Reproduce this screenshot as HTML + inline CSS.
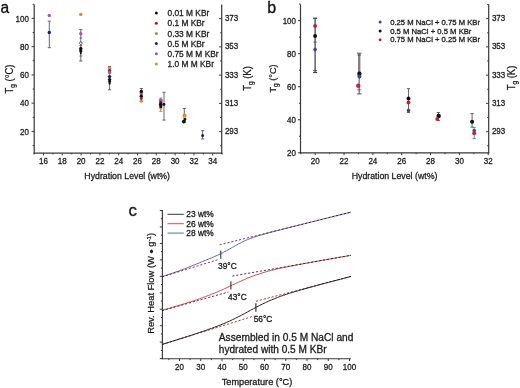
<!DOCTYPE html>
<html><head><meta charset="utf-8"><title>Figure</title>
<style>
html,body{margin:0;padding:0;background:#fff;}
svg{display:block;font-family:"Liberation Sans",sans-serif;filter:blur(0.3px);}
</style></head><body>
<svg width="520" height="388" viewBox="0 0 520 388">
<rect width="520" height="388" fill="#fff"/>
<line x1="34.20" y1="4.60" x2="34.20" y2="153.65" stroke="#383838" stroke-width="1.2" />
<line x1="33.60" y1="153.05" x2="222.30" y2="153.05" stroke="#383838" stroke-width="1.2" />
<line x1="221.70" y1="4.60" x2="221.70" y2="153.65" stroke="#383838" stroke-width="1.2" />
<line x1="43.50" y1="153.05" x2="43.50" y2="155.45" stroke="#383838" stroke-width="1" />
<text transform="translate(43.50,164.25) scale(0.89,1)" font-size="9.0" text-anchor="middle" fill="#1c1c1c" stroke="#1c1c1c" stroke-width="0.3" >16</text>
<line x1="62.30" y1="153.05" x2="62.30" y2="155.45" stroke="#383838" stroke-width="1" />
<text transform="translate(62.30,164.25) scale(0.89,1)" font-size="9.0" text-anchor="middle" fill="#1c1c1c" stroke="#1c1c1c" stroke-width="0.3" >18</text>
<line x1="81.10" y1="153.05" x2="81.10" y2="155.45" stroke="#383838" stroke-width="1" />
<text transform="translate(81.10,164.25) scale(0.89,1)" font-size="9.0" text-anchor="middle" fill="#1c1c1c" stroke="#1c1c1c" stroke-width="0.3" >20</text>
<line x1="99.90" y1="153.05" x2="99.90" y2="155.45" stroke="#383838" stroke-width="1" />
<text transform="translate(99.90,164.25) scale(0.89,1)" font-size="9.0" text-anchor="middle" fill="#1c1c1c" stroke="#1c1c1c" stroke-width="0.3" >22</text>
<line x1="118.70" y1="153.05" x2="118.70" y2="155.45" stroke="#383838" stroke-width="1" />
<text transform="translate(118.70,164.25) scale(0.89,1)" font-size="9.0" text-anchor="middle" fill="#1c1c1c" stroke="#1c1c1c" stroke-width="0.3" >24</text>
<line x1="137.50" y1="153.05" x2="137.50" y2="155.45" stroke="#383838" stroke-width="1" />
<text transform="translate(137.50,164.25) scale(0.89,1)" font-size="9.0" text-anchor="middle" fill="#1c1c1c" stroke="#1c1c1c" stroke-width="0.3" >26</text>
<line x1="156.30" y1="153.05" x2="156.30" y2="155.45" stroke="#383838" stroke-width="1" />
<text transform="translate(156.30,164.25) scale(0.89,1)" font-size="9.0" text-anchor="middle" fill="#1c1c1c" stroke="#1c1c1c" stroke-width="0.3" >28</text>
<line x1="175.10" y1="153.05" x2="175.10" y2="155.45" stroke="#383838" stroke-width="1" />
<text transform="translate(175.10,164.25) scale(0.89,1)" font-size="9.0" text-anchor="middle" fill="#1c1c1c" stroke="#1c1c1c" stroke-width="0.3" >30</text>
<line x1="193.90" y1="153.05" x2="193.90" y2="155.45" stroke="#383838" stroke-width="1" />
<text transform="translate(193.90,164.25) scale(0.89,1)" font-size="9.0" text-anchor="middle" fill="#1c1c1c" stroke="#1c1c1c" stroke-width="0.3" >32</text>
<line x1="212.70" y1="153.05" x2="212.70" y2="155.45" stroke="#383838" stroke-width="1" />
<text transform="translate(212.70,164.25) scale(0.89,1)" font-size="9.0" text-anchor="middle" fill="#1c1c1c" stroke="#1c1c1c" stroke-width="0.3" >34</text>
<line x1="34.10" y1="153.05" x2="34.10" y2="154.45" stroke="#383838" stroke-width="1" />
<line x1="52.90" y1="153.05" x2="52.90" y2="154.45" stroke="#383838" stroke-width="1" />
<line x1="71.70" y1="153.05" x2="71.70" y2="154.45" stroke="#383838" stroke-width="1" />
<line x1="90.50" y1="153.05" x2="90.50" y2="154.45" stroke="#383838" stroke-width="1" />
<line x1="109.30" y1="153.05" x2="109.30" y2="154.45" stroke="#383838" stroke-width="1" />
<line x1="128.10" y1="153.05" x2="128.10" y2="154.45" stroke="#383838" stroke-width="1" />
<line x1="146.90" y1="153.05" x2="146.90" y2="154.45" stroke="#383838" stroke-width="1" />
<line x1="165.70" y1="153.05" x2="165.70" y2="154.45" stroke="#383838" stroke-width="1" />
<line x1="184.50" y1="153.05" x2="184.50" y2="154.45" stroke="#383838" stroke-width="1" />
<line x1="203.30" y1="153.05" x2="203.30" y2="154.45" stroke="#383838" stroke-width="1" />
<line x1="222.10" y1="153.05" x2="222.10" y2="154.45" stroke="#383838" stroke-width="1" />
<line x1="31.60" y1="131.40" x2="34.20" y2="131.40" stroke="#383838" stroke-width="1" />
<text transform="translate(28.90,134.50) scale(0.89,1)" font-size="9.0" text-anchor="end" fill="#1c1c1c" stroke="#1c1c1c" stroke-width="0.3" >20</text>
<line x1="31.60" y1="103.15" x2="34.20" y2="103.15" stroke="#383838" stroke-width="1" />
<text transform="translate(28.90,106.25) scale(0.89,1)" font-size="9.0" text-anchor="end" fill="#1c1c1c" stroke="#1c1c1c" stroke-width="0.3" >40</text>
<line x1="31.60" y1="74.90" x2="34.20" y2="74.90" stroke="#383838" stroke-width="1" />
<text transform="translate(28.90,78.00) scale(0.89,1)" font-size="9.0" text-anchor="end" fill="#1c1c1c" stroke="#1c1c1c" stroke-width="0.3" >60</text>
<line x1="31.60" y1="46.65" x2="34.20" y2="46.65" stroke="#383838" stroke-width="1" />
<text transform="translate(28.90,49.75) scale(0.89,1)" font-size="9.0" text-anchor="end" fill="#1c1c1c" stroke="#1c1c1c" stroke-width="0.3" >80</text>
<line x1="31.60" y1="18.40" x2="34.20" y2="18.40" stroke="#383838" stroke-width="1" />
<text transform="translate(28.90,21.50) scale(0.89,1)" font-size="9.0" text-anchor="end" fill="#1c1c1c" stroke="#1c1c1c" stroke-width="0.3" >100</text>
<line x1="32.70" y1="145.53" x2="34.20" y2="145.53" stroke="#383838" stroke-width="1" />
<line x1="32.70" y1="117.28" x2="34.20" y2="117.28" stroke="#383838" stroke-width="1" />
<line x1="32.70" y1="89.03" x2="34.20" y2="89.03" stroke="#383838" stroke-width="1" />
<line x1="32.70" y1="60.78" x2="34.20" y2="60.78" stroke="#383838" stroke-width="1" />
<line x1="32.70" y1="32.53" x2="34.20" y2="32.53" stroke="#383838" stroke-width="1" />
<line x1="32.70" y1="4.27" x2="34.20" y2="4.27" stroke="#383838" stroke-width="1" />
<line x1="219.10" y1="131.61" x2="221.70" y2="131.61" stroke="#383838" stroke-width="1" />
<text transform="translate(224.90,134.11) scale(0.89,1)" font-size="9.0" text-anchor="start" fill="#1c1c1c" stroke="#1c1c1c" stroke-width="0.3" >293</text>
<line x1="219.10" y1="103.36" x2="221.70" y2="103.36" stroke="#383838" stroke-width="1" />
<text transform="translate(224.90,105.86) scale(0.89,1)" font-size="9.0" text-anchor="start" fill="#1c1c1c" stroke="#1c1c1c" stroke-width="0.3" >313</text>
<line x1="219.10" y1="75.11" x2="221.70" y2="75.11" stroke="#383838" stroke-width="1" />
<text transform="translate(224.90,77.61) scale(0.89,1)" font-size="9.0" text-anchor="start" fill="#1c1c1c" stroke="#1c1c1c" stroke-width="0.3" >333</text>
<line x1="219.10" y1="46.86" x2="221.70" y2="46.86" stroke="#383838" stroke-width="1" />
<text transform="translate(224.90,49.36) scale(0.89,1)" font-size="9.0" text-anchor="start" fill="#1c1c1c" stroke="#1c1c1c" stroke-width="0.3" >353</text>
<line x1="219.10" y1="18.61" x2="221.70" y2="18.61" stroke="#383838" stroke-width="1" />
<text transform="translate(224.90,21.11) scale(0.89,1)" font-size="9.0" text-anchor="start" fill="#1c1c1c" stroke="#1c1c1c" stroke-width="0.3" >373</text>
<line x1="220.20" y1="145.74" x2="221.70" y2="145.74" stroke="#383838" stroke-width="1" />
<line x1="220.20" y1="117.49" x2="221.70" y2="117.49" stroke="#383838" stroke-width="1" />
<line x1="220.20" y1="89.24" x2="221.70" y2="89.24" stroke="#383838" stroke-width="1" />
<line x1="220.20" y1="60.99" x2="221.70" y2="60.99" stroke="#383838" stroke-width="1" />
<line x1="220.20" y1="32.74" x2="221.70" y2="32.74" stroke="#383838" stroke-width="1" />
<text transform="translate(127.20,179.40) scale(0.933,1)" font-size="9.4" text-anchor="middle" fill="#1c1c1c" stroke="#1c1c1c" stroke-width="0.3" >Hydration Level (wt%)</text>
<text transform="translate(13.4,79.0) rotate(-90) scale(0.95,1)" font-size="10.0" text-anchor="middle" fill="#1c1c1c" stroke="#1c1c1c" stroke-width="0.25">T<tspan font-size="6.8" dy="2">g</tspan><tspan dy="-2"> (°C)</tspan></text>
<text transform="translate(250.6,78.5) rotate(-90) scale(0.95,1)" font-size="10.0" text-anchor="middle" fill="#1c1c1c" stroke="#1c1c1c" stroke-width="0.25">T<tspan font-size="6.8" dy="2">g</tspan><tspan dy="-2"> (K)</tspan></text>
<text transform="translate(0.50,12.70) scale(1.0,1)" font-size="15.6" text-anchor="start" fill="#111" stroke="#111" stroke-width="0.3" >a</text>
<circle cx="156.30" cy="13.00" r="1.5" fill="#111111"/>
<text transform="translate(167.50,16.10) scale(0.95,1)" font-size="8.8" text-anchor="start" fill="#1c1c1c" stroke="#1c1c1c" stroke-width="0.3" >0.01 M KBr</text>
<circle cx="156.30" cy="23.20" r="1.5" fill="#98202c"/>
<text transform="translate(167.50,26.30) scale(0.95,1)" font-size="8.8" text-anchor="start" fill="#1c1c1c" stroke="#1c1c1c" stroke-width="0.3" >0.1 M KBr</text>
<circle cx="156.30" cy="33.40" r="1.5" fill="#8a9a3a"/>
<text transform="translate(167.50,36.50) scale(0.95,1)" font-size="8.8" text-anchor="start" fill="#1c1c1c" stroke="#1c1c1c" stroke-width="0.3" >0.33 M KBr</text>
<circle cx="156.30" cy="43.60" r="1.5" fill="#1e1e62"/>
<text transform="translate(167.50,46.70) scale(0.95,1)" font-size="8.8" text-anchor="start" fill="#1c1c1c" stroke="#1c1c1c" stroke-width="0.3" >0.5 M KBr</text>
<circle cx="156.30" cy="53.80" r="1.5" fill="#a05aa2"/>
<text transform="translate(167.50,56.90) scale(0.95,1)" font-size="8.8" text-anchor="start" fill="#1c1c1c" stroke="#1c1c1c" stroke-width="0.3" >0.75 M M KBr</text>
<circle cx="156.30" cy="64.00" r="1.5" fill="#e08a30"/>
<text transform="translate(167.50,67.10) scale(0.95,1)" font-size="8.8" text-anchor="start" fill="#1c1c1c" stroke="#1c1c1c" stroke-width="0.3" >1.0 M M KBr</text>
<line x1="49.30" y1="21.20" x2="49.30" y2="47.70" stroke="#444" stroke-width="0.8" />
<line x1="47.70" y1="21.20" x2="50.90" y2="21.20" stroke="#444" stroke-width="0.8" />
<line x1="47.70" y1="47.70" x2="50.90" y2="47.70" stroke="#444" stroke-width="0.8" />
<circle cx="49.30" cy="32.50" r="1.7" fill="#1e1e62"/>
<circle cx="49.30" cy="15.50" r="1.7" fill="#a05aa2"/>
<line x1="80.80" y1="29.60" x2="80.80" y2="61.00" stroke="#444" stroke-width="0.8" />
<line x1="79.20" y1="29.60" x2="82.40" y2="29.60" stroke="#444" stroke-width="0.8" />
<line x1="79.20" y1="61.00" x2="82.40" y2="61.00" stroke="#444" stroke-width="0.8" />
<line x1="79.40" y1="38.00" x2="82.20" y2="38.00" stroke="#444" stroke-width="0.7" />
<line x1="79.40" y1="45.60" x2="82.20" y2="45.60" stroke="#444" stroke-width="0.7" />
<line x1="79.40" y1="56.00" x2="82.20" y2="56.00" stroke="#444" stroke-width="0.7" />
<circle cx="80.80" cy="14.40" r="1.7" fill="#e08a30"/>
<circle cx="80.80" cy="33.70" r="1.7" fill="#a05aa2"/>
<circle cx="80.8" cy="43.2" r="1.3" fill="#fff" stroke="#333" stroke-width="0.7"/>
<circle cx="80.80" cy="48.30" r="1.5999999999999999" fill="#111111"/>
<circle cx="80.80" cy="50.00" r="1.5999999999999999" fill="#111111"/>
<circle cx="80.80" cy="51.60" r="1.4" fill="#111111"/>
<circle cx="80.80" cy="53.40" r="0.8999999999999999" fill="#111111"/>
<line x1="109.60" y1="66.50" x2="109.60" y2="89.80" stroke="#444" stroke-width="0.8" />
<line x1="108.00" y1="66.50" x2="111.20" y2="66.50" stroke="#444" stroke-width="0.8" />
<line x1="108.00" y1="89.80" x2="111.20" y2="89.80" stroke="#444" stroke-width="0.8" />
<circle cx="109.60" cy="68.30" r="1.7" fill="#e08a30"/>
<circle cx="109.60" cy="70.60" r="1.7" fill="#98202c"/>
<circle cx="109.60" cy="72.60" r="1.7" fill="#a05aa2"/>
<circle cx="109.60" cy="76.60" r="1.7" fill="#1e1e62"/>
<circle cx="109.60" cy="79.60" r="1.7" fill="#111111"/>
<circle cx="109.60" cy="81.60" r="1.5" fill="#111111"/>
<circle cx="109.60" cy="83.60" r="1.1" fill="#111111"/>
<line x1="141.30" y1="88.50" x2="141.30" y2="101.50" stroke="#444" stroke-width="0.8" />
<line x1="139.70" y1="88.50" x2="142.90" y2="88.50" stroke="#444" stroke-width="0.8" />
<line x1="139.70" y1="101.50" x2="142.90" y2="101.50" stroke="#444" stroke-width="0.8" />
<circle cx="141.30" cy="101.00" r="1.7" fill="#e08a30"/>
<circle cx="141.30" cy="93.50" r="1.7" fill="#a05aa2"/>
<circle cx="141.30" cy="91.50" r="1.7" fill="#111111"/>
<circle cx="141.30" cy="96.30" r="1.7" fill="#111111"/>
<circle cx="141.30" cy="98.50" r="1.4" fill="#98202c"/>
<line x1="164.00" y1="92.30" x2="164.00" y2="120.10" stroke="#444" stroke-width="0.8" />
<line x1="162.40" y1="92.30" x2="165.60" y2="92.30" stroke="#444" stroke-width="0.8" />
<line x1="162.40" y1="120.10" x2="165.60" y2="120.10" stroke="#444" stroke-width="0.8" />
<line x1="160.80" y1="98.00" x2="160.80" y2="111.30" stroke="#b06a30" stroke-width="0.8" />
<line x1="159.20" y1="98.00" x2="162.40" y2="98.00" stroke="#b06a30" stroke-width="0.8" />
<line x1="159.20" y1="111.30" x2="162.40" y2="111.30" stroke="#b06a30" stroke-width="0.8" />
<circle cx="160.80" cy="108.00" r="1.7" fill="#e08a30"/>
<circle cx="160.80" cy="100.50" r="2.0" fill="#a05aa2"/>
<circle cx="160.80" cy="102.80" r="1.7" fill="#5a1a2a"/>
<circle cx="160.80" cy="104.60" r="1.9" fill="#111111"/>
<circle cx="160.80" cy="106.60" r="1.5" fill="#111111"/>
<circle cx="164.00" cy="104.40" r="1.4" fill="#111111"/>
<line x1="184.30" y1="108.50" x2="184.30" y2="122.00" stroke="#444" stroke-width="0.8" />
<line x1="182.70" y1="108.50" x2="185.90" y2="108.50" stroke="#444" stroke-width="0.8" />
<line x1="182.70" y1="122.00" x2="185.90" y2="122.00" stroke="#444" stroke-width="0.8" />
<circle cx="184.60" cy="115.50" r="2.0" fill="#e08a30"/>
<circle cx="184.60" cy="118.00" r="1.7" fill="#f0a060"/>
<circle cx="183.80" cy="121.60" r="1.9" fill="#111111"/>
<circle cx="185.00" cy="119.40" r="1.2999999999999998" fill="#111111"/>
<line x1="202.60" y1="130.70" x2="202.60" y2="138.90" stroke="#444" stroke-width="0.8" />
<line x1="201.00" y1="130.70" x2="204.20" y2="130.70" stroke="#444" stroke-width="0.8" />
<line x1="201.00" y1="138.90" x2="204.20" y2="138.90" stroke="#444" stroke-width="0.8" />
<circle cx="202.60" cy="135.60" r="1.5" fill="#1e1e62"/>
<line x1="300.50" y1="4.40" x2="300.50" y2="153.40" stroke="#383838" stroke-width="1.2" />
<line x1="299.90" y1="152.80" x2="489.30" y2="152.80" stroke="#383838" stroke-width="1.2" />
<line x1="488.70" y1="4.40" x2="488.70" y2="153.40" stroke="#383838" stroke-width="1.2" />
<line x1="315.20" y1="152.80" x2="315.20" y2="155.20" stroke="#383838" stroke-width="1" />
<text transform="translate(315.20,164.40) scale(0.89,1)" font-size="9.0" text-anchor="middle" fill="#1c1c1c" stroke="#1c1c1c" stroke-width="0.3" >20</text>
<line x1="344.04" y1="152.80" x2="344.04" y2="155.20" stroke="#383838" stroke-width="1" />
<text transform="translate(344.04,164.40) scale(0.89,1)" font-size="9.0" text-anchor="middle" fill="#1c1c1c" stroke="#1c1c1c" stroke-width="0.3" >22</text>
<line x1="372.88" y1="152.80" x2="372.88" y2="155.20" stroke="#383838" stroke-width="1" />
<text transform="translate(372.88,164.40) scale(0.89,1)" font-size="9.0" text-anchor="middle" fill="#1c1c1c" stroke="#1c1c1c" stroke-width="0.3" >24</text>
<line x1="401.72" y1="152.80" x2="401.72" y2="155.20" stroke="#383838" stroke-width="1" />
<text transform="translate(401.72,164.40) scale(0.89,1)" font-size="9.0" text-anchor="middle" fill="#1c1c1c" stroke="#1c1c1c" stroke-width="0.3" >26</text>
<line x1="430.56" y1="152.80" x2="430.56" y2="155.20" stroke="#383838" stroke-width="1" />
<text transform="translate(430.56,164.40) scale(0.89,1)" font-size="9.0" text-anchor="middle" fill="#1c1c1c" stroke="#1c1c1c" stroke-width="0.3" >28</text>
<line x1="459.40" y1="152.80" x2="459.40" y2="155.20" stroke="#383838" stroke-width="1" />
<text transform="translate(459.40,164.40) scale(0.89,1)" font-size="9.0" text-anchor="middle" fill="#1c1c1c" stroke="#1c1c1c" stroke-width="0.3" >30</text>
<line x1="488.24" y1="152.80" x2="488.24" y2="155.20" stroke="#383838" stroke-width="1" />
<text transform="translate(488.24,164.40) scale(0.89,1)" font-size="9.0" text-anchor="middle" fill="#1c1c1c" stroke="#1c1c1c" stroke-width="0.3" >32</text>
<line x1="300.78" y1="152.80" x2="300.78" y2="154.20" stroke="#383838" stroke-width="1" />
<line x1="329.62" y1="152.80" x2="329.62" y2="154.20" stroke="#383838" stroke-width="1" />
<line x1="358.46" y1="152.80" x2="358.46" y2="154.20" stroke="#383838" stroke-width="1" />
<line x1="387.30" y1="152.80" x2="387.30" y2="154.20" stroke="#383838" stroke-width="1" />
<line x1="416.14" y1="152.80" x2="416.14" y2="154.20" stroke="#383838" stroke-width="1" />
<line x1="444.98" y1="152.80" x2="444.98" y2="154.20" stroke="#383838" stroke-width="1" />
<line x1="473.82" y1="152.80" x2="473.82" y2="154.20" stroke="#383838" stroke-width="1" />
<line x1="297.90" y1="152.80" x2="300.50" y2="152.80" stroke="#383838" stroke-width="1" />
<text transform="translate(296.00,155.90) scale(0.89,1)" font-size="9.0" text-anchor="end" fill="#1c1c1c" stroke="#1c1c1c" stroke-width="0.3" >20</text>
<line x1="297.90" y1="119.76" x2="300.50" y2="119.76" stroke="#383838" stroke-width="1" />
<text transform="translate(296.00,122.86) scale(0.89,1)" font-size="9.0" text-anchor="end" fill="#1c1c1c" stroke="#1c1c1c" stroke-width="0.3" >40</text>
<line x1="297.90" y1="86.72" x2="300.50" y2="86.72" stroke="#383838" stroke-width="1" />
<text transform="translate(296.00,89.82) scale(0.89,1)" font-size="9.0" text-anchor="end" fill="#1c1c1c" stroke="#1c1c1c" stroke-width="0.3" >60</text>
<line x1="297.90" y1="53.68" x2="300.50" y2="53.68" stroke="#383838" stroke-width="1" />
<text transform="translate(296.00,56.78) scale(0.89,1)" font-size="9.0" text-anchor="end" fill="#1c1c1c" stroke="#1c1c1c" stroke-width="0.3" >80</text>
<line x1="297.90" y1="20.64" x2="300.50" y2="20.64" stroke="#383838" stroke-width="1" />
<text transform="translate(296.00,23.74) scale(0.89,1)" font-size="9.0" text-anchor="end" fill="#1c1c1c" stroke="#1c1c1c" stroke-width="0.3" >100</text>
<line x1="299.00" y1="136.28" x2="300.50" y2="136.28" stroke="#383838" stroke-width="1" />
<line x1="299.00" y1="103.24" x2="300.50" y2="103.24" stroke="#383838" stroke-width="1" />
<line x1="299.00" y1="70.20" x2="300.50" y2="70.20" stroke="#383838" stroke-width="1" />
<line x1="299.00" y1="37.16" x2="300.50" y2="37.16" stroke="#383838" stroke-width="1" />
<line x1="299.00" y1="4.12" x2="300.50" y2="4.12" stroke="#383838" stroke-width="1" />
<line x1="486.10" y1="131.61" x2="488.70" y2="131.61" stroke="#383838" stroke-width="1" />
<text transform="translate(491.90,134.11) scale(0.89,1)" font-size="9.0" text-anchor="start" fill="#1c1c1c" stroke="#1c1c1c" stroke-width="0.3" >293</text>
<line x1="486.10" y1="103.36" x2="488.70" y2="103.36" stroke="#383838" stroke-width="1" />
<text transform="translate(491.90,105.86) scale(0.89,1)" font-size="9.0" text-anchor="start" fill="#1c1c1c" stroke="#1c1c1c" stroke-width="0.3" >313</text>
<line x1="486.10" y1="75.11" x2="488.70" y2="75.11" stroke="#383838" stroke-width="1" />
<text transform="translate(491.90,77.61) scale(0.89,1)" font-size="9.0" text-anchor="start" fill="#1c1c1c" stroke="#1c1c1c" stroke-width="0.3" >333</text>
<line x1="486.10" y1="46.86" x2="488.70" y2="46.86" stroke="#383838" stroke-width="1" />
<text transform="translate(491.90,49.36) scale(0.89,1)" font-size="9.0" text-anchor="start" fill="#1c1c1c" stroke="#1c1c1c" stroke-width="0.3" >353</text>
<line x1="486.10" y1="18.61" x2="488.70" y2="18.61" stroke="#383838" stroke-width="1" />
<text transform="translate(491.90,21.11) scale(0.89,1)" font-size="9.0" text-anchor="start" fill="#1c1c1c" stroke="#1c1c1c" stroke-width="0.3" >373</text>
<line x1="487.20" y1="145.74" x2="488.70" y2="145.74" stroke="#383838" stroke-width="1" />
<line x1="487.20" y1="117.49" x2="488.70" y2="117.49" stroke="#383838" stroke-width="1" />
<line x1="487.20" y1="89.24" x2="488.70" y2="89.24" stroke="#383838" stroke-width="1" />
<line x1="487.20" y1="60.99" x2="488.70" y2="60.99" stroke="#383838" stroke-width="1" />
<line x1="487.20" y1="32.74" x2="488.70" y2="32.74" stroke="#383838" stroke-width="1" />
<line x1="487.20" y1="4.49" x2="488.70" y2="4.49" stroke="#383838" stroke-width="1" />
<text transform="translate(394.50,179.40) scale(0.933,1)" font-size="9.4" text-anchor="middle" fill="#1c1c1c" stroke="#1c1c1c" stroke-width="0.3" >Hydration Level (wt%)</text>
<text transform="translate(276.0,78.5) rotate(-90) scale(0.95,1)" font-size="9.7" text-anchor="middle" fill="#1c1c1c" stroke="#1c1c1c" stroke-width="0.25">T<tspan font-size="6.8" dy="2">g</tspan><tspan dy="-2"> (°C)</tspan></text>
<text transform="translate(515.2,78) rotate(-90) scale(0.95,1)" font-size="10.0" text-anchor="middle" fill="#1c1c1c" stroke="#1c1c1c" stroke-width="0.25">T<tspan font-size="6.8" dy="2">g</tspan><tspan dy="-2"> (K)</tspan></text>
<text transform="translate(267.20,12.90) scale(1.0,1)" font-size="16" text-anchor="start" fill="#111" stroke="#111" stroke-width="0.3" >b</text>
<circle cx="380.10" cy="22.10" r="1.5" fill="#3a4494"/>
<text transform="translate(390.20,24.85) scale(1.0,1)" font-size="7.68" text-anchor="start" fill="#1c1c1c" stroke="#1c1c1c" stroke-width="0.3" >0.25 M NaCl + 0.75 M KBr</text>
<circle cx="380.10" cy="30.90" r="1.5" fill="#111111"/>
<text transform="translate(390.20,33.65) scale(1.0,1)" font-size="7.68" text-anchor="start" fill="#1c1c1c" stroke="#1c1c1c" stroke-width="0.3" >0.5 M NaCl + 0.5 M KBr</text>
<circle cx="380.10" cy="39.70" r="1.5" fill="#c8203a"/>
<text transform="translate(390.20,42.45) scale(1.0,1)" font-size="7.68" text-anchor="start" fill="#1c1c1c" stroke="#1c1c1c" stroke-width="0.3" >0.75 M NaCl + 0.25 M KBr</text>
<line x1="315.10" y1="18.30" x2="315.10" y2="72.50" stroke="#404040" stroke-width="1.25" />
<line x1="313.10" y1="18.30" x2="317.10" y2="18.30" stroke="#404040" stroke-width="1.25" />
<line x1="313.10" y1="72.50" x2="317.10" y2="72.50" stroke="#404040" stroke-width="1.25" />
<line x1="313.10" y1="70.50" x2="317.10" y2="70.50" stroke="#444" stroke-width="0.8" />
<line x1="313.50" y1="42.10" x2="316.70" y2="42.10" stroke="#444" stroke-width="0.8" />
<line x1="313.10" y1="18.30" x2="317.10" y2="18.30" stroke="#2a6a66" stroke-width="1.0" />
<circle cx="315.10" cy="26.00" r="2.0" fill="#c8203a"/>
<circle cx="315.10" cy="36.00" r="2.0" fill="#111111"/>
<circle cx="315.10" cy="49.50" r="1.8" fill="#3a4494"/>
<line x1="359.20" y1="53.20" x2="359.20" y2="93.90" stroke="#606060" stroke-width="1.1" />
<line x1="356.90" y1="53.20" x2="361.50" y2="53.20" stroke="#606060" stroke-width="1.1" />
<line x1="356.90" y1="93.90" x2="361.50" y2="93.90" stroke="#606060" stroke-width="1.1" />
<line x1="359.20" y1="53.20" x2="359.20" y2="74.00" stroke="#808080" stroke-width="2.4" />
<line x1="357.40" y1="55.00" x2="361.00" y2="55.00" stroke="#444" stroke-width="0.8" />
<line x1="357.40" y1="89.80" x2="361.00" y2="89.80" stroke="#444" stroke-width="0.8" />
<circle cx="359.40" cy="73.70" r="2.2" fill="#111111"/>
<circle cx="359.40" cy="76.40" r="2.0" fill="#3a4494"/>
<circle cx="358.30" cy="85.70" r="2.2" fill="#c8203a"/>
<line x1="408.50" y1="88.60" x2="408.50" y2="112.50" stroke="#444" stroke-width="0.8" />
<line x1="406.90" y1="88.60" x2="410.10" y2="88.60" stroke="#444" stroke-width="0.8" />
<line x1="406.90" y1="112.50" x2="410.10" y2="112.50" stroke="#444" stroke-width="0.8" />
<circle cx="408.50" cy="98.60" r="2.0" fill="#111111"/>
<circle cx="408.50" cy="102.50" r="2.0" fill="#c8203a"/>
<circle cx="408.50" cy="110.60" r="1.8" fill="#3a4494"/>
<line x1="438.30" y1="112.50" x2="438.30" y2="120.50" stroke="#444" stroke-width="0.8" />
<line x1="436.70" y1="112.50" x2="439.90" y2="112.50" stroke="#444" stroke-width="0.8" />
<line x1="436.70" y1="120.50" x2="439.90" y2="120.50" stroke="#444" stroke-width="0.8" />
<circle cx="438.70" cy="116.00" r="2.2" fill="#111111"/>
<circle cx="437.30" cy="119.00" r="2.0" fill="#c8203a"/>
<line x1="472.10" y1="113.60" x2="472.10" y2="127.10" stroke="#444" stroke-width="0.8" />
<line x1="470.50" y1="113.60" x2="473.70" y2="113.60" stroke="#444" stroke-width="0.8" />
<line x1="470.50" y1="127.10" x2="473.70" y2="127.10" stroke="#444" stroke-width="0.8" />
<circle cx="472.10" cy="121.80" r="2.0" fill="#111111"/>
<line x1="474.20" y1="127.50" x2="474.20" y2="138.50" stroke="#2a8a7a" stroke-width="0.8" />
<line x1="472.60" y1="127.50" x2="475.80" y2="127.50" stroke="#2a8a7a" stroke-width="0.8" />
<line x1="472.60" y1="138.50" x2="475.80" y2="138.50" stroke="#2a8a7a" stroke-width="0.8" />
<circle cx="474.20" cy="130.60" r="1.8" fill="#3a4494"/>
<circle cx="474.20" cy="133.20" r="2.0" fill="#c8203a"/>
<line x1="162.40" y1="210.00" x2="162.40" y2="359.20" stroke="#383838" stroke-width="1.15" />
<line x1="161.90" y1="358.70" x2="351.00" y2="358.70" stroke="#383838" stroke-width="1.15" />
<line x1="159.80" y1="210.50" x2="162.40" y2="210.50" stroke="#383838" stroke-width="1" />
<line x1="159.80" y1="226.96" x2="162.40" y2="226.96" stroke="#383838" stroke-width="1" />
<line x1="159.80" y1="243.42" x2="162.40" y2="243.42" stroke="#383838" stroke-width="1" />
<line x1="159.80" y1="259.88" x2="162.40" y2="259.88" stroke="#383838" stroke-width="1" />
<line x1="159.80" y1="276.34" x2="162.40" y2="276.34" stroke="#383838" stroke-width="1" />
<line x1="159.80" y1="292.80" x2="162.40" y2="292.80" stroke="#383838" stroke-width="1" />
<line x1="159.80" y1="309.26" x2="162.40" y2="309.26" stroke="#383838" stroke-width="1" />
<line x1="159.80" y1="325.72" x2="162.40" y2="325.72" stroke="#383838" stroke-width="1" />
<line x1="159.80" y1="342.18" x2="162.40" y2="342.18" stroke="#383838" stroke-width="1" />
<line x1="159.80" y1="358.64" x2="162.40" y2="358.64" stroke="#383838" stroke-width="1" />
<line x1="160.90" y1="218.73" x2="162.40" y2="218.73" stroke="#383838" stroke-width="1" />
<line x1="160.90" y1="235.19" x2="162.40" y2="235.19" stroke="#383838" stroke-width="1" />
<line x1="160.90" y1="251.65" x2="162.40" y2="251.65" stroke="#383838" stroke-width="1" />
<line x1="160.90" y1="268.11" x2="162.40" y2="268.11" stroke="#383838" stroke-width="1" />
<line x1="160.90" y1="284.57" x2="162.40" y2="284.57" stroke="#383838" stroke-width="1" />
<line x1="160.90" y1="301.03" x2="162.40" y2="301.03" stroke="#383838" stroke-width="1" />
<line x1="160.90" y1="317.49" x2="162.40" y2="317.49" stroke="#383838" stroke-width="1" />
<line x1="160.90" y1="333.95" x2="162.40" y2="333.95" stroke="#383838" stroke-width="1" />
<line x1="160.90" y1="350.41" x2="162.40" y2="350.41" stroke="#383838" stroke-width="1" />
<line x1="179.50" y1="358.70" x2="179.50" y2="361.10" stroke="#383838" stroke-width="1" />
<text transform="translate(179.50,370.30) scale(0.89,1)" font-size="9.0" text-anchor="middle" fill="#1c1c1c" stroke="#1c1c1c" stroke-width="0.3" >20</text>
<line x1="200.75" y1="358.70" x2="200.75" y2="361.10" stroke="#383838" stroke-width="1" />
<text transform="translate(200.75,370.30) scale(0.89,1)" font-size="9.0" text-anchor="middle" fill="#1c1c1c" stroke="#1c1c1c" stroke-width="0.3" >30</text>
<line x1="222.00" y1="358.70" x2="222.00" y2="361.10" stroke="#383838" stroke-width="1" />
<text transform="translate(222.00,370.30) scale(0.89,1)" font-size="9.0" text-anchor="middle" fill="#1c1c1c" stroke="#1c1c1c" stroke-width="0.3" >40</text>
<line x1="243.25" y1="358.70" x2="243.25" y2="361.10" stroke="#383838" stroke-width="1" />
<text transform="translate(243.25,370.30) scale(0.89,1)" font-size="9.0" text-anchor="middle" fill="#1c1c1c" stroke="#1c1c1c" stroke-width="0.3" >50</text>
<line x1="264.50" y1="358.70" x2="264.50" y2="361.10" stroke="#383838" stroke-width="1" />
<text transform="translate(264.50,370.30) scale(0.89,1)" font-size="9.0" text-anchor="middle" fill="#1c1c1c" stroke="#1c1c1c" stroke-width="0.3" >60</text>
<line x1="285.75" y1="358.70" x2="285.75" y2="361.10" stroke="#383838" stroke-width="1" />
<text transform="translate(285.75,370.30) scale(0.89,1)" font-size="9.0" text-anchor="middle" fill="#1c1c1c" stroke="#1c1c1c" stroke-width="0.3" >70</text>
<line x1="307.00" y1="358.70" x2="307.00" y2="361.10" stroke="#383838" stroke-width="1" />
<text transform="translate(307.00,370.30) scale(0.89,1)" font-size="9.0" text-anchor="middle" fill="#1c1c1c" stroke="#1c1c1c" stroke-width="0.3" >80</text>
<line x1="328.25" y1="358.70" x2="328.25" y2="361.10" stroke="#383838" stroke-width="1" />
<text transform="translate(328.25,370.30) scale(0.89,1)" font-size="9.0" text-anchor="middle" fill="#1c1c1c" stroke="#1c1c1c" stroke-width="0.3" >90</text>
<line x1="349.50" y1="358.70" x2="349.50" y2="361.10" stroke="#383838" stroke-width="1" />
<text transform="translate(349.50,370.30) scale(0.89,1)" font-size="9.0" text-anchor="middle" fill="#1c1c1c" stroke="#1c1c1c" stroke-width="0.3" >100</text>
<line x1="168.88" y1="358.70" x2="168.88" y2="360.10" stroke="#383838" stroke-width="1" />
<line x1="190.12" y1="358.70" x2="190.12" y2="360.10" stroke="#383838" stroke-width="1" />
<line x1="211.38" y1="358.70" x2="211.38" y2="360.10" stroke="#383838" stroke-width="1" />
<line x1="232.62" y1="358.70" x2="232.62" y2="360.10" stroke="#383838" stroke-width="1" />
<line x1="253.88" y1="358.70" x2="253.88" y2="360.10" stroke="#383838" stroke-width="1" />
<line x1="275.12" y1="358.70" x2="275.12" y2="360.10" stroke="#383838" stroke-width="1" />
<line x1="296.38" y1="358.70" x2="296.38" y2="360.10" stroke="#383838" stroke-width="1" />
<line x1="317.62" y1="358.70" x2="317.62" y2="360.10" stroke="#383838" stroke-width="1" />
<line x1="338.88" y1="358.70" x2="338.88" y2="360.10" stroke="#383838" stroke-width="1" />
<text transform="translate(257.00,384.90) scale(1.0,1)" font-size="9.2" text-anchor="middle" fill="#1c1c1c" stroke="#1c1c1c" stroke-width="0.3" >Temperature (°C)</text>
<text transform="translate(154.2,283.4) rotate(-90) scale(1.10,1)" font-size="8.5" text-anchor="middle" fill="#1c1c1c" stroke="#1c1c1c" stroke-width="0.25">Rev. Heat Flow (W <tspan font-size="11" dy="0.8">•</tspan><tspan dy="-0.8"> g</tspan><tspan font-size="5.6" dy="-3.2">-1</tspan><tspan dy="3.2">)</tspan></text>
<text transform="translate(128.60,215.90) scale(1.0,1)" font-size="16.8" text-anchor="start" fill="#111" stroke="#111" stroke-width="0.3" >c</text>
<line x1="167.50" y1="214.30" x2="183.80" y2="214.30" stroke="#222" stroke-width="0.9" />
<text transform="translate(186.30,217.30) scale(1.0,1)" font-size="8.4" text-anchor="start" fill="#1c1c1c" stroke="#1c1c1c" stroke-width="0.3" >23 wt%</text>
<line x1="167.50" y1="223.70" x2="183.80" y2="223.70" stroke="#d8343a" stroke-width="0.9" />
<text transform="translate(186.30,226.70) scale(1.0,1)" font-size="8.4" text-anchor="start" fill="#1c1c1c" stroke="#1c1c1c" stroke-width="0.3" >26 wt%</text>
<line x1="167.50" y1="233.10" x2="183.80" y2="233.10" stroke="#4a5aa8" stroke-width="0.9" />
<text transform="translate(186.30,236.10) scale(1.0,1)" font-size="8.4" text-anchor="start" fill="#1c1c1c" stroke="#1c1c1c" stroke-width="0.3" >28 wt%</text>
<path d="M162.0,276.7 L163.5,276.2 L165.0,275.7 L166.5,275.2 L168.0,274.7 L169.5,274.2 L171.0,273.7 L172.5,273.2 L174.0,272.7 L175.5,272.1 L177.0,271.6 L178.5,271.1 L180.0,270.5 L181.5,269.9 L183.0,269.4 L184.5,268.8 L186.0,268.2 L187.5,267.6 L189.0,267.1 L190.5,266.5 L192.0,265.9 L193.5,265.2 L195.0,264.6 L196.5,264.0 L198.0,263.4 L199.5,262.8 L201.0,262.2 L202.5,261.5 L204.0,260.9 L205.5,260.3 L207.0,259.7 L208.5,259.1 L210.0,258.5 L211.5,257.8 L213.0,257.2 L214.5,256.6 L216.0,255.9 L217.5,255.2 L219.0,254.6 L220.5,253.8 L222.0,253.1 L223.5,252.3 L225.0,251.5 L226.5,250.7 L228.0,249.9 L229.5,249.1 L231.0,248.2 L232.5,247.3 L234.0,246.5 L235.5,245.6 L237.0,244.8 L238.5,243.9 L240.0,243.1 L241.5,242.4 L243.0,241.6 L244.5,240.9 L246.0,240.2 L247.5,239.6 L249.0,239.0 L250.5,238.4 L252.0,237.9 L253.5,237.3 L255.0,236.8 L256.5,236.4 L258.0,235.9 L259.5,235.4 L261.0,235.0 L262.5,234.6 L264.0,234.1 L265.5,233.7 L267.0,233.3 L268.5,232.9 L270.0,232.5 L271.5,232.1 L273.0,231.7 L274.5,231.3 L276.0,230.9 L277.5,230.5 L279.0,230.1 L280.5,229.8 L282.0,229.4 L283.5,229.0 L285.0,228.6 L286.5,228.2 L288.0,227.9 L289.5,227.5 L291.0,227.1 L292.5,226.7 L294.0,226.3 L295.5,226.0 L297.0,225.6 L298.5,225.2 L300.0,224.8 L301.5,224.5 L303.0,224.1 L304.5,223.7 L306.0,223.3 L307.5,223.0 L309.0,222.6 L310.5,222.2 L312.0,221.8 L313.5,221.5 L315.0,221.1 L316.5,220.7 L318.0,220.3 L319.5,220.0 L321.0,219.6 L322.5,219.2 L324.0,218.8 L325.5,218.5 L327.0,218.1 L328.5,217.7 L330.0,217.3 L331.5,217.0 L333.0,216.6 L334.5,216.2 L336.0,215.8 L337.5,215.5 L339.0,215.1 L340.5,214.7 L342.0,214.3 L343.5,214.0 L345.0,213.6 L346.5,213.2 L348.0,212.9 L349.5,212.5 L351.0,212.1 L351.0,212.1" fill="none" stroke="#4a5aa8" stroke-width="0.9" stroke-linejoin="round" />
<path d="M162.0,310.4 L163.5,309.9 L165.0,309.5 L166.5,309.1 L168.0,308.6 L169.5,308.2 L171.0,307.7 L172.5,307.3 L174.0,306.9 L175.5,306.4 L177.0,306.0 L178.5,305.5 L180.0,305.0 L181.5,304.6 L183.0,304.1 L184.5,303.7 L186.0,303.2 L187.5,302.7 L189.0,302.2 L190.5,301.8 L192.0,301.3 L193.5,300.8 L195.0,300.3 L196.5,299.8 L198.0,299.3 L199.5,298.8 L201.0,298.2 L202.5,297.7 L204.0,297.1 L205.5,296.6 L207.0,296.0 L208.5,295.5 L210.0,294.9 L211.5,294.3 L213.0,293.7 L214.5,293.1 L216.0,292.5 L217.5,291.8 L219.0,291.2 L220.5,290.5 L222.0,289.9 L223.5,289.2 L225.0,288.5 L226.5,287.8 L228.0,287.1 L229.5,286.4 L231.0,285.7 L232.5,285.0 L234.0,284.3 L235.5,283.6 L237.0,282.9 L238.5,282.2 L240.0,281.5 L241.5,280.8 L243.0,280.2 L244.5,279.5 L246.0,278.9 L247.5,278.2 L249.0,277.6 L250.5,277.0 L252.0,276.4 L253.5,275.9 L255.0,275.3 L256.5,274.8 L258.0,274.3 L259.5,273.8 L261.0,273.3 L262.5,272.8 L264.0,272.4 L265.5,271.9 L267.0,271.5 L268.5,271.1 L270.0,270.7 L271.5,270.3 L273.0,270.0 L274.5,269.6 L276.0,269.2 L277.5,268.9 L279.0,268.6 L280.5,268.2 L282.0,267.9 L283.5,267.6 L285.0,267.3 L286.5,267.0 L288.0,266.7 L289.5,266.4 L291.0,266.1 L292.5,265.8 L294.0,265.5 L295.5,265.2 L297.0,264.9 L298.5,264.6 L300.0,264.4 L301.5,264.1 L303.0,263.8 L304.5,263.5 L306.0,263.3 L307.5,263.0 L309.0,262.7 L310.5,262.4 L312.0,262.2 L313.5,261.9 L315.0,261.6 L316.5,261.4 L318.0,261.1 L319.5,260.8 L321.0,260.6 L322.5,260.3 L324.0,260.0 L325.5,259.8 L327.0,259.5 L328.5,259.3 L330.0,259.0 L331.5,258.7 L333.0,258.5 L334.5,258.2 L336.0,257.9 L337.5,257.7 L339.0,257.4 L340.5,257.1 L342.0,256.9 L343.5,256.6 L345.0,256.4 L346.5,256.1 L348.0,255.8 L349.5,255.6 L351.0,255.3" fill="none" stroke="#d8343a" stroke-width="0.9" stroke-linejoin="round" />
<path d="M162.0,344.5 L163.5,344.0 L165.0,343.5 L166.5,343.1 L168.0,342.6 L169.5,342.1 L171.0,341.7 L172.5,341.2 L174.0,340.7 L175.5,340.3 L177.0,339.8 L178.5,339.3 L180.0,338.8 L181.5,338.4 L183.0,337.9 L184.5,337.4 L186.0,336.9 L187.5,336.4 L189.0,336.0 L190.5,335.5 L192.0,335.0 L193.5,334.5 L195.0,334.0 L196.5,333.5 L198.0,333.0 L199.5,332.5 L201.0,332.0 L202.5,331.5 L204.0,331.0 L205.5,330.5 L207.0,330.0 L208.5,329.4 L210.0,328.9 L211.5,328.4 L213.0,327.8 L214.5,327.2 L216.0,326.7 L217.5,326.1 L219.0,325.5 L220.5,324.9 L222.0,324.3 L223.5,323.7 L225.0,323.1 L226.5,322.4 L228.0,321.7 L229.5,321.1 L231.0,320.4 L232.5,319.7 L234.0,319.0 L235.5,318.2 L237.0,317.5 L238.5,316.7 L240.0,316.0 L241.5,315.2 L243.0,314.4 L244.5,313.6 L246.0,312.8 L247.5,312.0 L249.0,311.1 L250.5,310.3 L252.0,309.5 L253.5,308.7 L255.0,307.9 L256.5,307.1 L258.0,306.3 L259.5,305.5 L261.0,304.8 L262.5,304.0 L264.0,303.3 L265.5,302.6 L267.0,301.9 L268.5,301.2 L270.0,300.5 L271.5,299.9 L273.0,299.3 L274.5,298.7 L276.0,298.1 L277.5,297.5 L279.0,296.9 L280.5,296.4 L282.0,295.8 L283.5,295.3 L285.0,294.8 L286.5,294.3 L288.0,293.8 L289.5,293.3 L291.0,292.8 L292.5,292.4 L294.0,291.9 L295.5,291.5 L297.0,291.0 L298.5,290.6 L300.0,290.1 L301.5,289.7 L303.0,289.3 L304.5,288.9 L306.0,288.4 L307.5,288.0 L309.0,287.6 L310.5,287.2 L312.0,286.8 L313.5,286.4 L315.0,286.0 L316.5,285.6 L318.0,285.1 L319.5,284.7 L321.0,284.3 L322.5,283.9 L324.0,283.5 L325.5,283.1 L327.0,282.7 L328.5,282.3 L330.0,281.9 L331.5,281.5 L333.0,281.1 L334.5,280.8 L336.0,280.4 L337.5,280.0 L339.0,279.6 L340.5,279.2 L342.0,278.8 L343.5,278.4 L345.0,278.0 L346.5,277.6 L348.0,277.2 L349.5,276.8 L351.0,276.4" fill="none" stroke="#222" stroke-width="1.0" stroke-linejoin="round" />
<path d="M162.0,276.9 L218.8,259.4" fill="none" stroke="#a82434" stroke-width="0.9" stroke-linejoin="round" stroke-dasharray="2.2 1.8" style="mix-blend-mode:multiply"/>
<path d="M219.6,244.8 L351.0,212.1" fill="none" stroke="#a82434" stroke-width="0.9" stroke-linejoin="round" stroke-dasharray="2.2 1.8" style="mix-blend-mode:multiply"/>
<line x1="220.80" y1="250.50" x2="220.80" y2="258.80" stroke="#222" stroke-width="1.0" />
<text transform="translate(218.00,268.50) scale(1.0,1)" font-size="8.4" text-anchor="start" fill="#1c1c1c" stroke="#1c1c1c" stroke-width="0.3" >39°C</text>
<path d="M162.0,310.7 L228.4,292.0" fill="none" stroke="#2c2c50" stroke-width="0.9" stroke-linejoin="round" stroke-dasharray="2.2 1.8" style="mix-blend-mode:multiply"/>
<path d="M232.3,276.1 L351.0,255.3" fill="none" stroke="#2c2c50" stroke-width="0.9" stroke-linejoin="round" stroke-dasharray="2.2 1.8" style="mix-blend-mode:multiply"/>
<line x1="230.90" y1="281.30" x2="230.90" y2="289.50" stroke="#222" stroke-width="1.0" />
<text transform="translate(228.00,300.20) scale(1.0,1)" font-size="8.4" text-anchor="start" fill="#1c1c1c" stroke="#1c1c1c" stroke-width="0.3" >43°C</text>
<path d="M162.0,344.5 L254.2,316.0" fill="none" stroke="#a82434" stroke-width="0.9" stroke-linejoin="round" stroke-dasharray="2.2 1.8" style="mix-blend-mode:multiply"/>
<path d="M256.0,301.3 L351.0,276.4" fill="none" stroke="#a82434" stroke-width="0.9" stroke-linejoin="round" stroke-dasharray="2.2 1.8" style="mix-blend-mode:multiply"/>
<line x1="255.90" y1="303.20" x2="255.90" y2="311.80" stroke="#222" stroke-width="1.1" />
<text transform="translate(253.70,321.80) scale(1.0,1)" font-size="8.4" text-anchor="start" fill="#1c1c1c" stroke="#1c1c1c" stroke-width="0.3" >56°C</text>
<text transform="translate(218.80,340.60) scale(1.0,1)" font-size="10.18" text-anchor="start" fill="#1c1c1c" stroke="#1c1c1c" stroke-width="0.3" >Assembled in 0.5 M NaCl and</text>
<text transform="translate(218.80,353.00) scale(1.0,1)" font-size="10.1" text-anchor="start" fill="#1c1c1c" stroke="#1c1c1c" stroke-width="0.3" >hydrated with 0.5 M KBr</text>
</svg>
</body></html>
